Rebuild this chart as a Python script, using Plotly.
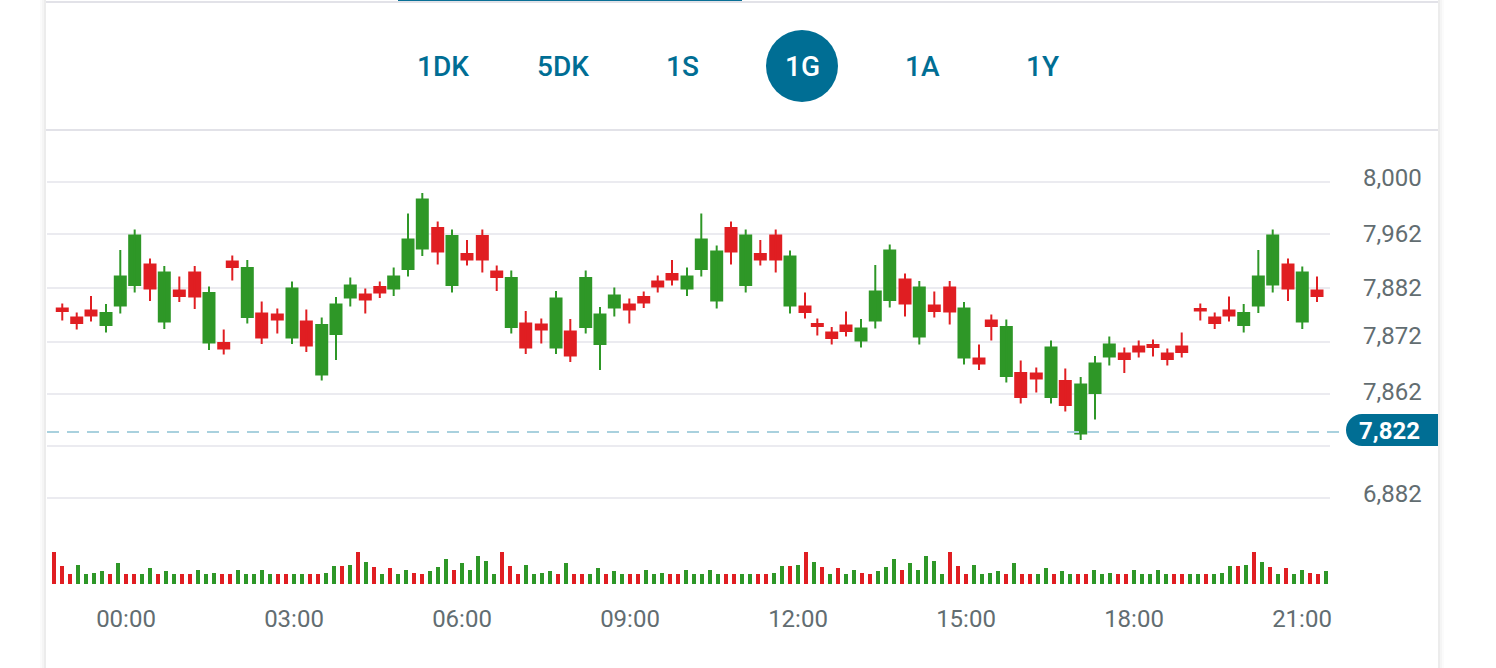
import plotly.graph_objects as go

W = 1496
H = 668
# the page photographs the paper 2px narrower than asked, so paper fractions use this
PAPER_W = 1494

# hours after 00:00
candle_hour = [-1.138, -0.880, -0.625, -0.357, -0.102, 0.155, 0.429, 0.684, 0.952, 1.227,
               1.482, 1.745, 1.898, 2.166, 2.423, 2.702, 2.964, 3.220, 3.495, 3.750,
               4.005, 4.273, 4.532, 4.780, 5.036, 5.291, 5.566, 5.821, 6.089, 6.363,
               6.620, 6.880, 7.138, 7.416, 7.679, 7.934, 8.209, 8.464, 8.720, 8.988,
               9.245, 9.495, 9.750, 10.018, 10.273, 10.548, 10.804, 11.066, 11.327, 11.602,
               11.857, 12.125, 12.345, 12.602, 12.857, 13.125, 13.380, 13.638, 13.911, 14.166,
               14.434, 14.709, 14.964, 15.232, 15.452, 15.720, 15.977, 16.255, 16.518, 16.773,
               17.048, 17.304, 17.559, 17.827, 18.084, 18.339, 18.595, 18.852, 19.184, 19.441,
               19.696, 19.959, 20.220, 20.477, 20.750, 21.005, 21.268]
candle_open = [7878.1, 7876.3, 7877.7, 7874.4, 7878.3, 7882.4, 7886.9, 7875.1, 7881.7, 7885.3,
               7870.9, 7871.2, 7887.5, 7876.0, 7877.1, 7876.9, 7871.9, 7875.5, 7864.5, 7872.6,
               7879.9, 7880.9, 7882.4, 7881.7, 7885.6, 7889.7, 7894.2, 7882.4, 7889.0, 7892.6,
               7885.5, 7874.0, 7875.1, 7874.9, 7869.9, 7873.5, 7874.0, 7870.6, 7877.9, 7878.9,
               7880.4, 7883.5, 7885.0, 7881.7, 7885.6, 7879.3, 7894.2, 7882.4, 7889.0, 7892.7,
               7878.3, 7878.5, 7875.0, 7873.3, 7874.7, 7871.3, 7875.3, 7879.4, 7883.9, 7872.1,
               7878.7, 7882.3, 7867.9, 7868.1, 7875.7, 7864.2, 7865.2, 7865.1, 7860.0, 7863.6,
               7852.7, 7860.8, 7868.1, 7869.1, 7870.5, 7870.8, 7869.1, 7870.5, 7878.0, 7876.3,
               7877.7, 7874.4, 7878.3, 7882.5, 7886.9, 7875.1, 7881.7]
candle_close = [7877.2, 7874.8, 7876.3, 7877.2, 7884.5, 7892.7, 7881.7, 7885.3, 7880.2, 7880.1,
                7881.2, 7869.7, 7886.0, 7886.2, 7871.9, 7875.5, 7882.1, 7870.3, 7874.8, 7878.9,
                7882.7, 7879.5, 7880.9, 7884.5, 7891.9, 7899.9, 7889.1, 7892.6, 7887.5, 7887.5,
                7884.0, 7884.2, 7869.9, 7873.5, 7880.1, 7868.3, 7884.2, 7876.9, 7880.7, 7877.5,
                7878.9, 7882.1, 7883.5, 7884.5, 7891.9, 7889.5, 7889.1, 7892.7, 7887.5, 7887.5,
                7888.5, 7877.0, 7874.2, 7871.8, 7873.2, 7874.1, 7881.5, 7889.7, 7878.7, 7882.3,
                7877.2, 7877.1, 7878.1, 7866.7, 7874.2, 7874.4, 7860.0, 7863.7, 7870.3, 7858.4,
                7862.9, 7867.1, 7870.9, 7867.6, 7869.1, 7870.0, 7867.6, 7869.0, 7877.3, 7874.8,
                7876.3, 7877.2, 7884.5, 7892.7, 7881.7, 7885.3, 7880.2]
candle_high = [7878.9, 7877.1, 7880.4, 7878.8, 7889.6, 7893.7, 7887.9, 7886.4, 7884.3, 7886.4,
               7882.3, 7873.7, 7888.5, 7887.6, 7879.3, 7877.9, 7883.3, 7877.7, 7876.1, 7880.2,
               7884.1, 7881.9, 7883.3, 7886.1, 7896.9, 7901.0, 7895.3, 7893.7, 7891.6, 7893.7,
               7886.5, 7885.5, 7877.4, 7875.9, 7881.4, 7875.8, 7885.5, 7878.2, 7882.1, 7879.9,
               7881.3, 7884.5, 7887.6, 7886.1, 7896.9, 7890.5, 7895.3, 7893.7, 7891.6, 7893.7,
               7889.5, 7881.1, 7875.9, 7874.2, 7877.3, 7875.8, 7886.6, 7890.7, 7884.9, 7883.4,
               7881.3, 7883.4, 7879.2, 7870.7, 7876.7, 7875.7, 7867.5, 7866.1, 7871.5, 7865.9,
               7864.2, 7868.4, 7872.3, 7870.1, 7871.5, 7871.7, 7869.9, 7873.1, 7878.9, 7877.1,
               7880.3, 7878.8, 7889.6, 7893.7, 7887.9, 7886.3, 7884.3]
candle_low = [7875.5, 7873.7, 7875.3, 7873.1, 7876.9, 7881.1, 7879.4, 7873.8, 7879.2, 7877.8,
              7869.6, 7868.7, 7883.5, 7874.9, 7870.8, 7872.9, 7870.8, 7869.2, 7863.5, 7867.6,
              7878.3, 7876.9, 7880.0, 7880.4, 7884.3, 7888.4, 7886.7, 7881.1, 7886.5, 7885.1,
              7881.4, 7872.9, 7868.8, 7870.9, 7868.8, 7867.2, 7872.9, 7865.6, 7876.3, 7874.9,
              7878.0, 7881.1, 7882.5, 7880.4, 7884.3, 7877.9, 7886.7, 7881.1, 7886.5, 7885.1,
              7876.9, 7875.9, 7872.5, 7870.7, 7872.3, 7870.1, 7873.9, 7878.1, 7876.3, 7870.7,
              7876.1, 7874.7, 7866.7, 7865.6, 7871.5, 7863.1, 7858.9, 7861.1, 7858.9, 7857.3,
              7851.6, 7855.7, 7866.5, 7865.0, 7868.1, 7868.3, 7866.5, 7868.1, 7875.5, 7873.8,
              7875.3, 7873.1, 7877.0, 7881.1, 7879.4, 7873.8, 7879.2]

volume_values = [32, 18, 10, 19, 10, 11, 13, 10, 21, 10, 10, 10, 16, 10, 13, 10, 10, 10, 14, 10,
                 11, 10, 10, 14, 10, 10, 14, 10, 10, 10, 10, 10, 10, 10, 11, 18, 18, 19, 32, 22,
                 17, 10, 16, 10, 14, 11, 10, 13, 17, 25, 14, 21, 14, 28, 23, 10,
                 32, 18, 10, 19, 10, 11, 13, 10, 21, 10, 10, 10, 16, 10, 13, 10, 10, 10, 14, 10,
                 11, 10, 10, 14, 10, 10, 14, 10, 10, 10, 10, 10, 10, 10, 11, 18, 18, 19, 32, 22,
                 17, 10, 16, 10, 14, 11, 10, 13, 17, 25, 14, 21, 14, 28, 23, 10,
                 32, 18, 10, 19, 10, 11, 13, 10, 21, 10, 10, 10, 16, 10, 13, 10, 10, 10, 14, 10,
                 11, 10, 10, 14, 10, 10, 14, 10, 10, 10, 10, 10, 10, 10, 11, 18, 18, 19, 32, 22,
                 17, 10, 16, 10, 14, 11, 10, 13]
volume_up = [0, 0, 0, 1, 1, 1, 1, 0, 1, 0, 0, 1, 1, 0, 1, 1, 0, 0, 1, 1,
             1, 0, 0, 1, 1, 1, 1, 1, 0, 0, 1, 1, 0, 0, 1, 1, 0, 1, 0, 1,
             0, 1, 0, 1, 1, 0, 0, 1, 1, 1, 0, 1, 1, 1, 1, 1,
             0, 0, 0, 1, 1, 1, 1, 0, 1, 0, 0, 1, 1, 0, 1, 1, 0, 0, 1, 1,
             1, 0, 0, 1, 1, 1, 1, 1, 0, 0, 1, 1, 0, 0, 1, 1, 0, 1, 0, 1,
             0, 1, 0, 1, 1, 0, 0, 1, 1, 1, 0, 1, 1, 1, 1, 1,
             0, 0, 0, 1, 1, 1, 1, 0, 1, 0, 0, 1, 1, 0, 1, 1, 0, 0, 1, 1,
             1, 0, 0, 1, 1, 1, 1, 1, 0, 0, 1, 1, 0, 1, 1, 1, 0, 1, 0, 1,
             0, 1, 0, 1, 1, 0, 0, 1]

time_ticks = [0, 3, 6, 9, 12, 15, 18, 21]
time_labels = ['00:00', '03:00', '06:00', '09:00', '12:00', '15:00', '18:00', '21:00']
grid_prices = [7903.2, 7892.8, 7882.0, 7871.2, 7860.8, 7850.4, 7840.0]
price_ticks = [7904.0, 7892.8, 7882.0, 7872.4, 7861.2, 7840.8]
price_labels = ['8,000', '7,962', '7,882', '7,872', '7,862', '6,882']
last_price = 7853.2
last_label = '7,822'
range_labels = ['1DK', '5DK', '1S', '1G', '1A', '1Y']
range_centers = [442.5, 562.5, 682.5, 802, 922, 1042]
selected_range = '1G'

GREEN = '#2e9727'
RED = '#e01e22'
BLUE = '#006e94'
GREY = '#626d71'
FONT = 'Roboto'
PX_PER_HOUR = 56.0


def fx(px):
    return px / PAPER_W


def fy(px):
    return 1 - px / H


def candles(idx, color):
    tops = [max(candle_open[i], candle_close[i]) for i in idx]
    bottoms = [min(candle_open[i], candle_close[i]) for i in idx]
    return go.Bar(
        x=[candle_hour[i] for i in idx],
        y=[t - b for t, b in zip(tops, bottoms)],
        base=bottoms,
        width=13 / PX_PER_HOUR,
        marker=dict(color=color, line=dict(width=0)),
        error_y=dict(
            type='data',
            symmetric=False,
            array=[candle_high[i] - t for i, t in zip(idx, tops)],
            arrayminus=[t - candle_low[i] for i, t in zip(idx, tops)],
            color=color,
            thickness=2,
            width=0,
        ),
        hoverinfo='skip',
        showlegend=False,
        xaxis='x',
        yaxis='y',
    )


def volumes(idx, color):
    return go.Bar(
        x=[(i - 9) / 7 for i in idx],
        y=[volume_values[i] for i in idx],
        width=4 / PX_PER_HOUR,
        marker=dict(color=color, line=dict(width=0)),
        hoverinfo='skip',
        showlegend=False,
        xaxis='x',
        yaxis='y2',
    )


n = range(len(candle_hour))
up = [i for i in n if candle_close[i] > candle_open[i]]
down = [i for i in n if candle_close[i] <= candle_open[i]]
v = range(len(volume_values))
vol_up = [i for i in v if volume_up[i]]
vol_down = [i for i in v if not volume_up[i]]

fig = go.Figure()
fig.add_trace(candles(up, GREEN))
fig.add_trace(candles(down, RED))
fig.add_trace(volumes(vol_up, GREEN))
fig.add_trace(volumes(vol_down, RED))
# empty trace so the price labels axis gets drawn
fig.add_trace(go.Scatter(x=[], y=[], xaxis='x', yaxis='y3', showlegend=False))


def rect(x0, y0, x1, y1, color):
    return dict(type='rect', xref='paper', yref='paper', x0=fx(x0), x1=fx(x1),
                y0=fy(y0), y1=fy(y1), fillcolor=color, line=dict(width=0))


def circle(x0, y0, x1, y1, color):
    return dict(type='circle', xref='paper', yref='paper', x0=fx(x0), x1=fx(x1),
                y0=fy(y0), y1=fy(y1), fillcolor=color, line=dict(width=0))


shapes = []
# card shadow
for off, col in [(6, '#fbfbfb'), (4, '#f5f5f5'), (2, '#ececec')]:
    shapes.append(rect(46 - off, 0, 46 - off + 2, H, col))
    shapes.append(rect(1438 + off - 2, 0, 1438 + off, H, col))
shapes.append(rect(46, 1, 1438, 3, '#e2e2e8'))
shapes.append(rect(398, 0, 742, 1, '#0a7096'))
shapes.append(rect(46, 129, 1438, 131, '#e2e2e8'))
shapes.append(circle(766, 30, 838, 102, BLUE))
shapes.append(dict(type='line', xref='paper', yref='y', x0=fx(47), x1=fx(1346),
                   y0=last_price, y1=last_price,
                   line=dict(color='#a9d1de', width=2, dash='12px,8px')))
shapes.append(circle(1346, 414, 1378, 446, BLUE))
shapes.append(rect(1362, 414, 1438, 446, BLUE))

annotations = []
for lab, cx in zip(range_labels, range_centers):
    annotations.append(dict(
        text=lab, xref='paper', yref='paper', x=fx(cx), y=fy(66),
        showarrow=False, xanchor='center', yanchor='middle',
        font=dict(family=FONT, size=28, weight=500,
                  color='#ffffff' if lab == selected_range else BLUE),
    ))
annotations.append(dict(
    text=last_label, xref='paper', yref='paper', x=fx(1422), y=fy(431),
    showarrow=False, xanchor='right', yanchor='middle',
    font=dict(family=FONT, size=24, weight=700, color='#ffffff'),
))

fig.update_layout(
    width=W,
    height=H,
    margin=dict(l=0, r=0, t=0, b=0),
    paper_bgcolor='#ffffff',
    plot_bgcolor='rgba(0,0,0,0)',
    barmode='overlay',
    showlegend=False,
    shapes=shapes,
    annotations=annotations,
    xaxis=dict(
        domain=[fx(47), fx(1330)],
        range=[(47 - 126) / PX_PER_HOUR, (1330 - 126) / PX_PER_HOUR],
        anchor='y2',
        tickmode='array',
        tickvals=time_ticks,
        ticktext=time_labels,
        ticks='',
        ticklabelstandoff=18,
        tickfont=dict(family=FONT, size=24, color=GREY),
        showgrid=False,
        showline=False,
        zeroline=False,
    ),
    yaxis=dict(
        domain=[fy(510), fy(131)],
        range=[7837.6, 7913.4],
        anchor='x',
        side='right',
        tickmode='array',
        tickvals=grid_prices,
        showticklabels=False,
        ticks='',
        gridcolor='#ebebf0',
        gridwidth=2,
        zeroline=False,
        showline=False,
    ),
    yaxis2=dict(
        domain=[fy(584), fy(540)],
        range=[0, 44],
        anchor='x',
        showgrid=False,
        showticklabels=False,
        ticks='',
        zeroline=False,
        showline=False,
    ),
    yaxis3=dict(
        overlaying='y',
        range=[7837.6, 7913.4],
        anchor='x',
        side='right',
        tickmode='array',
        tickvals=price_ticks,
        ticktext=price_labels,
        ticks='',
        ticklabelstandoff=32,
        tickfont=dict(family=FONT, size=24, color=GREY),
        showgrid=False,
        zeroline=False,
        showline=False,
    ),
)

# page must be exactly the window size, no margin or inline gap under the plot
fix_page = """
document.documentElement.style.height='668px';
document.documentElement.style.overflow='hidden';
document.body.style.margin='0';
document.body.style.height='668px';
document.body.style.overflow='hidden';
document.querySelectorAll('.svg-container').forEach(function(e){e.style.display='block';});
"""
fig.write_html('out.html', config=dict(displayModeBar=False), post_script=fix_page)
